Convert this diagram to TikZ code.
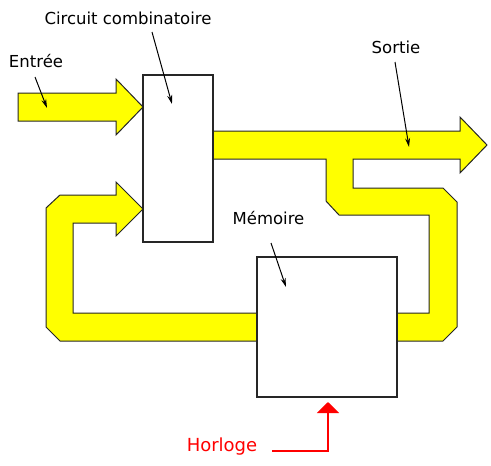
\documentclass[tikz,border=0pt]{standalone}
\usepackage{fontspec}
\setmainfont{DejaVu Sans}
\usetikzlibrary{arrows.meta}
\definecolor{flowyellow}{RGB}{255,255,0}
\definecolor{pureRed}{RGB}{255,0,0}
\begin{document}
\begin{tikzpicture}[x=1pt,y=-1pt,
  flow/.style={fill=flowyellow,draw=black!85,line width=1pt,line join=miter},
  block/.style={draw=black!85,fill=white,line width=1.8pt,inner sep=0pt},
  lbl/.style={font=\fontsize{16.5}{18}\selectfont,inner sep=0pt},
  pointer/.style={draw=black,line width=1pt,-{Stealth[length=9pt,width=5pt]}},
  clock/.style={draw=pureRed,line width=2pt,-{Triangle[length=11pt,width=22pt]}}]
\useasboundingbox (0,0) rectangle (491,466);
% input arrow
\draw[flow] (18,93) -- (116,93) -- (116,79) -- (143,107) -- (116,135) -- (116,121) -- (18,121) -- cycle;
% output + feedback loop
\draw[flow] (213,131) -- (460,131) -- (460,117) -- (487,145) -- (460,173) -- (460,159)
  -- (353,159) -- (353,188) -- (443,188) -- (457,202) -- (457,327) -- (443,341)
  -- (60,341) -- (46,327) -- (46,208) -- (60,195) -- (116,195) -- (116,182)
  -- (143,209) -- (116,236) -- (116,223) -- (73,223) -- (73,313) -- (429,313)
  -- (429,215) -- (339,215) -- (326,201) -- (326,159) -- (213,159) -- cycle;
% blocks
\node[block,minimum width=70pt,minimum height=167pt] (comb) at (178,158.5) {};
\node[block,minimum width=140pt,minimum height=140pt] (mem) at (327,327) {};
% labels
\node[lbl] (entree) at (36,61) {Entrée};
\node[lbl] (circ) at (128,18) {Circuit combinatoire};
\node[lbl] (sortie) at (396,47) {Sortie};
\node[lbl] (memo) at (268.5,218) {Mémoire};
\node[lbl,text=pureRed,font=\fontsize{18}{20}\selectfont] (horl) at (222,447) {Horloge};
% pointer coordinates
\coordinate (e0) at (35,77);   \coordinate (e1) at (47,108);
\coordinate (c0) at (152,32);  \coordinate (c1) at (172,104);
\coordinate (s0) at (395,62);  \coordinate (s1) at (409,147);
\coordinate (m0) at (271,243); \coordinate (m1) at (286,287);
\coordinate (h0) at (272,451); \coordinate (h1) at (328,402);
\draw[pointer] (e0) -- (e1);
\draw[pointer] (c0) -- (c1);
\draw[pointer] (s0) -- (s1);
\draw[pointer] (m0) -- (m1);
\draw[clock] (h0) -| (h1);
\end{tikzpicture}
\end{document}
